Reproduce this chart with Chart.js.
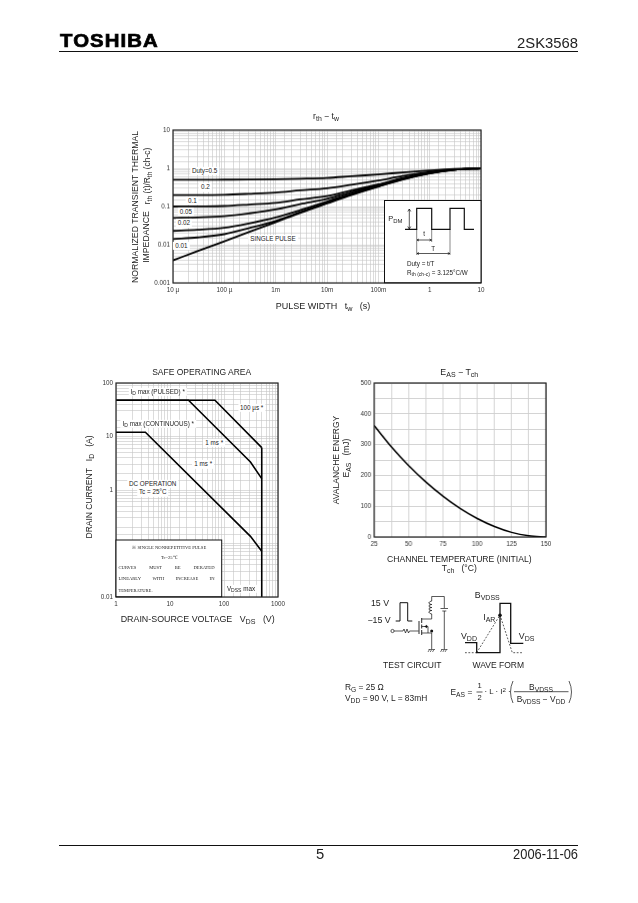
<!DOCTYPE html>
<html><head><meta charset="utf-8">
<script src="https://cdn.jsdelivr.net/npm/chart.js@4/dist/chart.umd.min.js"></script>
<style>
html,body{margin:0;padding:0;background:#fff;width:638px;height:903px;overflow:hidden}
body{position:relative;font-family:"Liberation Sans",Arial,sans-serif;color:#222}
canvas{position:absolute}
svg{position:absolute;left:0;top:0}
.t{position:absolute;white-space:nowrap;transform:translate(-50%,-50%);line-height:1}
.l{position:absolute;white-space:nowrap;transform:translateY(-50%);line-height:1}
.rr{position:absolute;white-space:nowrap;transform:translate(-100%,-50%);line-height:1}
.r{position:absolute;white-space:nowrap;transform:translate(-50%,-50%) rotate(-90deg);line-height:1}
.s{font-size:6.3px}.m{font-size:8.8px}.b{font-size:8.7px}
.w{background:#fff;padding:1px 2px;opacity:.99}
.j{position:absolute;left:118.5px;width:96px;display:flex;justify-content:space-between;font:4.6px "Liberation Serif",serif;transform:translateY(-50%);line-height:1}
.c{font:4.6px "Liberation Serif",serif}
sub{font-size:.8em;vertical-align:-.28em;line-height:0}
sup{font-size:.8em;vertical-align:.4em;line-height:0}
</style></head><body>
<canvas id="c1"></canvas><canvas id="c2"></canvas><canvas id="c3"></canvas>

<svg width="638" height="903" viewBox="0 0 638 903" fill="none" stroke="#111">
<line x1="59" y1="51.5" x2="578" y2="51.5" stroke-width="1"/>
<line x1="59" y1="845.500" x2="578" y2="845.500" stroke-width="1"/>
<rect x="384.5" y="200.5" width="96.5" height="82.2" fill="#fff" stroke-width="1"/>
<path d="M405 229.3H416.7V208.3H431.7V229.3H450V208.3H464.3V229.3H474" stroke-width="1.2"/>
<path d="M409.3 209V229M407.8 211.5L409.3 209L410.8 211.5M407.8 226.5L409.3 229L410.8 226.5" stroke-width=".7"/>
<path d="M416.7 229V255M431.7 229V242M450 229V255" stroke-width=".5"/>
<path d="M417 240H431.5M419 239L417 240L419 241M429.5 239L431.5 240L429.5 241" stroke-width=".7"/>
<path d="M417 253.5H449.8M419 252.5L417 253.5L419 254.5M447.8 252.5L449.8 253.5L447.8 254.5" stroke-width=".7"/>
<rect x="116" y="540" width="105.7" height="56.7" fill="#fff" stroke-width="1"/>
<path d="M395.7 621H400V602.7H407.7V621H412.3" stroke-width="1"/>
<circle cx="392.5" cy="631" r="1.6" stroke-width=".7"/>
<path d="M394 631H403L404 629L405.5 633L407 629L408.5 633L409.5 631H418.7" stroke-width=".7"/>
<path d="M419 621V634M421.7 618V623M421.7 624.5V628.5M421.7 630V635" stroke-width=".9"/>
<path d="M421.7 619H431.7V614M431.7 601V596.5H444.3V608M440.5 608.5H448M442.3 611H446.3M444.3 611V649M421.7 633H431.7V649M421.7 626.5H428M428 626.5V633" stroke-width=".7"/>
<path d="M431.7 614C428 613 428 611 431.7 610.5C428 610 428 608 431.7 607.5C428 607 428 605 431.7 604.5C428 604 428 602 431.7 601" stroke-width=".9"/>
<path d="M424.5 626.5L427 625V628Z" fill="#111" stroke-width=".3"/>
<circle cx="431.7" cy="631" r="1.5" fill="#111" stroke="none"/>
<path d="M428.5 649.5H435M429.5 649.5L428 652M431.7 649.5L430.2 652M434 649.5L432.5 652M441 649.5H447.5M442 649.5L440.5 652M444.3 649.5L442.8 652M446.5 649.5L445 652" stroke-width=".6"/>
<path d="M465 642.7H476.7V652.7H500V603.3H510.7V643.3H523.3" stroke-width="1.3"/>
<path d="M465 652.7H476.7M476.7 652.7L500 615L512.3 652.7H523.3" stroke-width=".7" stroke-dasharray="1.8 1.6"/>
<circle cx="500" cy="615.3" r="1.8" fill="#111" stroke="none"/>
<line x1="476.5" y1="692" x2="482.5" y2="692" stroke-width=".7"/>
<line x1="514" y1="691.7" x2="568.5" y2="691.7" stroke-width=".7"/>
<path d="M513 681Q508 692 513 703M569 681Q574 692 569 703" stroke-width=".7"/>
</svg>

<div class="l" style="left:60px;top:41px;font-size:18.5px;font-weight:bold;letter-spacing:1px;-webkit-text-stroke:.7px #000;color:#000;transform:translateY(-50%) scaleX(1.1);transform-origin:left center">TOSHIBA</div>
<div class="rr" style="left:578px;top:43px;font-size:14.8px">2SK3568</div>
<div class="t" style="left:320px;top:853.5px;font-size:14.8px">5</div>
<div class="rr" style="left:577.5px;top:853.5px;font-size:14.8px;transform:translate(-100%,-50%) scaleX(.87);transform-origin:right center">2006-11-06</div>

<div class="t m" style="left:326px;top:116px;font-size:8.6px">r<sub>th</sub> − t<sub>w</sub></div>
<div class="t b" style="left:323px;top:306px;font-size:9px">PULSE WIDTH &nbsp; t<sub>w</sub> &nbsp; (s)</div>
<div class="r b" style="left:135px;top:207px">NORMALIZED TRANSIENT THERMAL</div>
<div class="r b" style="left:145.5px;top:237px">IMPEDANCE</div>
<div class="r" style="left:146.5px;top:176px;font-size:8.4px">r<sub>th</sub> (t)/R<sub>th</sub> (ch-c)</div>
<div class="t s w" style="left:204.7px;top:170.7px">Duty=0.5</div>
<div class="t s w" style="left:205.3px;top:187.3px">0.2</div>
<div class="t s w" style="left:192.3px;top:200.7px">0.1</div>
<div class="t s w" style="left:186px;top:211.7px">0.05</div>
<div class="t s w" style="left:184px;top:223.3px">0.02</div>
<div class="t s w" style="left:181.3px;top:245.7px">0.01</div>
<div class="t s w" style="left:273px;top:239.3px">SINGLE PULSE</div>
<div class="t s" style="left:395.3px;top:219.3px;font-size:7.4px">P<sub>DM</sub></div>
<div class="t s" style="left:424px;top:234px">t</div>
<div class="t s" style="left:433.3px;top:249px">T</div>
<div class="l s" style="left:407px;top:264px">Duty = t/T</div>
<div class="l s" style="left:407px;top:273px">R<sub>th (ch-c)</sub> = 3.125°C/W</div>

<div class="t m" style="left:201.7px;top:371.7px;font-size:8.5px">SAFE OPERATING AREA</div>
<div class="t b" style="left:197.7px;top:619.3px;font-size:8.9px">DRAIN-SOURCE VOLTAGE &nbsp; V<sub>DS</sub> &nbsp; (V)</div>
<div class="r b" style="left:88.5px;top:487px;font-size:8.5px">DRAIN CURRENT &nbsp; I<sub>D</sub> &nbsp; (A)</div>
<div class="t s w" style="left:157.7px;top:391.7px">I<sub>D</sub> max (PULSED) *</div>
<div class="t s w" style="left:158.3px;top:424px">I<sub>D</sub> max (CONTINUOUS) *</div>
<div class="t s w" style="left:251.7px;top:407.7px">100 µs *</div>
<div class="t s w" style="left:214.3px;top:442.7px">1 ms *</div>
<div class="t s w" style="left:203.3px;top:464.3px">1 ms *</div>
<div class="t s w" style="left:152.7px;top:483.7px">DC OPERATION</div>
<div class="t s w" style="left:152.7px;top:492.3px">Tc = 25°C</div>
<div class="t s w" style="left:241px;top:589px">V<sub>DSS</sub> max</div>
<div class="t c" style="left:169.3px;top:547.3px">※ SINGLE NONREPETITIVE PULSE</div>
<div class="t c" style="left:169.3px;top:557.3px">Tc=25℃</div>
<div class="j" style="top:568.3px"><span>CURVES</span><span>MUST</span><span>BE</span><span>DERATED</span></div>
<div class="j" style="top:579.3px"><span>LINEARLY</span><span>WITH</span><span>INCREASE</span><span>IN</span></div>
<div class="l c" style="left:118.5px;top:590px">TEMPERATURE.</div>

<div class="t m" style="left:459.3px;top:372.3px">E<sub>AS</sub> − T<sub>ch</sub></div>
<div class="t b" style="left:459.3px;top:559px;font-size:8.6px">CHANNEL TEMPERATURE (INITIAL)</div>
<div class="t b" style="left:459.3px;top:568px;font-size:8.6px">T<sub>ch</sub> &nbsp; (°C)</div>
<div class="r b" style="left:336px;top:460px;font-size:8.5px">AVALANCHE ENERGY</div>
<div class="r b" style="left:345.5px;top:458px;font-size:8.5px">E<sub>AS</sub> &nbsp; (mJ)</div>

<div class="t m" style="left:380px;top:603.3px">15 V</div>
<div class="t m" style="left:379px;top:620px">−15 V</div>
<div class="t m" style="left:487.3px;top:595px">B<sub>VDSS</sub></div>
<div class="t m" style="left:489.3px;top:617px">I<sub>AR</sub></div>
<div class="t m" style="left:469px;top:636px">V<sub>DD</sub></div>
<div class="t m" style="left:526.7px;top:636px">V<sub>DS</sub></div>
<div class="t m" style="left:412.3px;top:665px;font-size:8.5px">TEST CIRCUIT</div>
<div class="t m" style="left:498.3px;top:665px;font-size:8.5px">WAVE FORM</div>
<div class="l" style="left:345px;top:686.7px;font-size:8.4px">R<sub>G</sub> = 25 Ω</div>
<div class="l" style="left:345px;top:698.3px;font-size:8.4px">V<sub>DD</sub> = 90 V, L = 83mH</div>
<div class="l" style="left:450.5px;top:692px;font-size:8.4px">E<sub>AS</sub> =</div>
<div class="t" style="left:479.5px;top:686px;font-size:7.6px">1</div>
<div class="t" style="left:479.5px;top:698px;font-size:7.6px">2</div>
<div class="l" style="left:484.5px;top:692px;font-size:7.8px">· L · I<sup>2</sup> ·</div>
<div class="t m" style="left:541px;top:686.5px;font-size:8.4px">B<sub>VDSS</sub></div>
<div class="t m" style="left:541px;top:698.5px;font-size:8.4px">B<sub>VDSS</sub> − V<sub>DD</sub></div>

<script>
const tw = [1e-5,3e-5,1e-4,3e-4,1e-3,3e-3,1e-2,3e-2,1e-1,3e-1,1,3,10];
const duty05 = [.50,.50,.505,.51,.52,.535,.56,.62,.69,.78,.88,.96,1];
const duty02 = [.20,.20,.203,.215,.233,.265,.30,.37,.48,.63,.80,.93,1];
const duty01 = [.10,.101,.103,.112,.125,.153,.187,.265,.38,.56,.77,.92,1];
const duty005 = [.05,.052,.056,.066,.0835,.115,.158,.24,.365,.545,.76,.92,1];
const duty002 = [.023,.0245,.0277,.036,.0517,.08,.135,.22,.35,.53,.75,.92,1];
const duty001 = [.014,.0155,.0189,.027,.042,.071,.125,.21,.34,.52,.745,.915,1];
const singlePulse = [.0039,.0068,.0123,.0215,.039,.068,.12,.2,.33,.51,.735,.91,1];
const twExponents = [-5,-4,-3,-2,-1,0,1];
const twTickLabels = ["10 µ","100 µ","1m","10m","100m","1","10"];
const rthExponents = [-3,-2,-1,0,1];
const rthTickLabels = ["0.001","0.01","0.1","1","10"];

const soa100usV = [1,68,500];
const soa100usA = [47.5,47.5,6.2];
const soa1msV = [1,22,309,500];
const soa1msA = [47.5,47.5,3.33,1.63];
const soaDcV = [1,3.5,309,500];
const soaDcA = [12,12,.136,.0714];
const vdssLimitV = [500,500];
const vdssLimitA = [6.2,.01];
const vdsExponents = [0,1,2,3];
const vdsTickLabels = ["1","10","100","1000"];
const idExponents = [-2,-1,0,1,2];
const idTickLabels = ["0.01","","1","10","100"];

const tch = [25,37.5,50,62.5,75,87.5,100,112.5,125,137.5,150];
const eas = [362,293,232,179,133,93,60,34,15,4,0];

const FONT = '"Liberation Sans", Arial, sans-serif';
const frame = {id:'frame',afterDatasetsDraw(c){const a=c.chartArea,x=c.ctx;x.save();x.strokeStyle='#222';x.lineWidth=1.2;x.strokeRect(a.left,a.top,a.right-a.left,a.bottom-a.top);x.restore();}};
const PAD = {l:32,t:8,r:14,b:14};

function expLabel(exps,labels){return v=>{const e=Math.log10(v),r=Math.round(e);if(Math.abs(e-r)>1e-6)return '';const i=exps.indexOf(r);return i<0?'':labels[i];};}
function place(id,l,t,w,h){const c=document.getElementById(id);const W=w+PAD.l+PAD.r,H=h+PAD.t+PAD.b;c.style.left=(l-PAD.l)+'px';c.style.top=(t-PAD.t)+'px';c.style.width=W+'px';c.style.height=H+'px';c.width=W;c.height=H;return c;}
function axis(type,min,max,cb,side,gridColor,gridWidth){return {type,min,max,border:{display:false},
  grid:{color:gridColor||'#c4c4c4',lineWidth:gridWidth||.6,drawTicks:false},
  ticks:{callback:cb,autoSkip:false,maxRotation:0,minRotation:0,padding:3,color:'#333',font:{family:FONT,size:6.3}},
  afterFit(s){if(side==='x')s.height=PAD.b;else s.width=PAD.l;}};}
function line(xs,ys,w){return {data:xs.map((x,i)=>({x,y:ys[i]})),borderColor:'#000',borderWidth:w||1.8,pointRadius:0,fill:false,cubicInterpolationMode:'monotone'};}
function straight(xs,ys){return {data:xs.map((x,i)=>({x,y:ys[i]})),borderColor:'#000',borderWidth:1.6,pointRadius:0,fill:false,tension:0};}
function make(id,box,datasets,x,y){return new Chart(place(id,...box),{type:'line',data:{datasets},plugins:[frame],
  options:{responsive:false,animation:false,parsing:{xAxisKey:'x',yAxisKey:'y'},layout:{autoPadding:false,padding:{top:PAD.t,right:PAD.r,left:0,bottom:0}},
  plugins:{legend:{display:false},tooltip:{enabled:false},title:{display:false}},scales:{x,y}}});}

make('c1',[172.7,130,308.3,152.7],
  [duty05,duty02,duty01,duty005,duty002,duty001,singlePulse].map(d=>line(tw,d)),
  axis('logarithmic',1e-5,10,expLabel(twExponents,twTickLabels),'x'),
  axis('logarithmic',1e-3,10,expLabel(rthExponents,rthTickLabels),'y'));

make('c2',[116,382.7,162.3,214],
  [straight(soa100usV,soa100usA),straight(soa1msV,soa1msA),straight(soaDcV,soaDcA),straight(vdssLimitV,vdssLimitA)],
  axis('logarithmic',1,1000,expLabel(vdsExponents,vdsTickLabels),'x'),
  axis('logarithmic',.01,100,expLabel(idExponents,idTickLabels),'y'));

const c3x = axis('linear',25,150,v=>(v%25===0?String(v):''),'x','#cfcfcf',.9);
c3x.ticks.stepSize=12.5;
const c3y = axis('linear',0,500,v=>(v%100===0?String(v):''),'y','#cfcfcf',.9);
c3y.ticks.stepSize=50;
make('c3',[374.3,382.7,171.7,154],[line(tch,eas,1.5)],c3x,c3y);
</script>
</body></html>
